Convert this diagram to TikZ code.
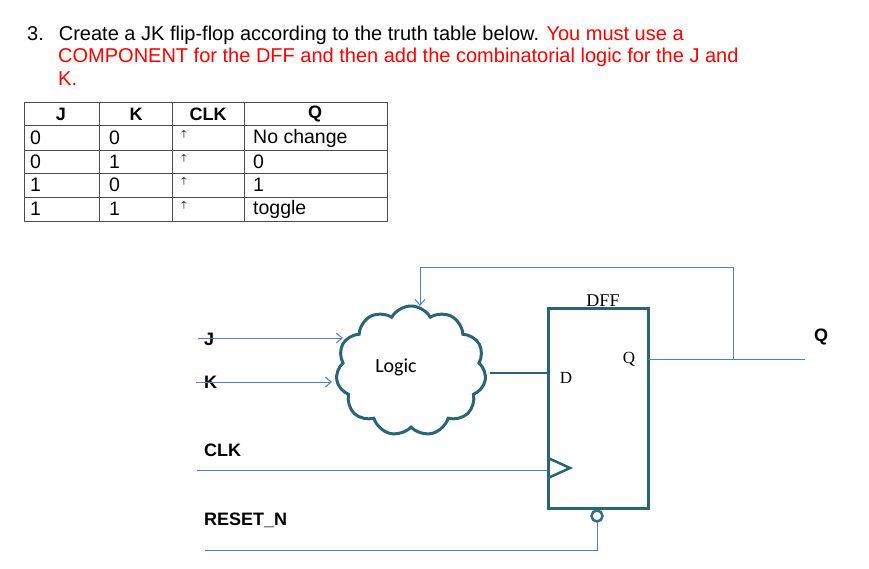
\documentclass[tikz,border=0pt]{standalone}
\usepackage{amsmath}
\usepackage{fontspec}
\setmainfont{Liberation Sans}
\newfontfamily\calib{Carlito}
\newfontfamily\tms{Liberation Serif}
\usetikzlibrary{shapes.symbols,arrows.meta}
\definecolor{wire}{RGB}{79,129,189}
\definecolor{teal}{RGB}{43,100,115}
\definecolor{qred}{RGB}{255,0,0}
\begin{document}
\begin{tikzpicture}[x=1pt,y=-1pt,
  wire/.style={draw=wire,line width=1pt},
  arr/.style={wire,-{Straight Barb[length=6pt,width=10pt]}},
  tbl/.style={draw=black!70,line width=0.6pt},
  cell/.style={anchor=west,inner sep=0pt,font=\fontsize{19.5}{19.5}\selectfont},
  hdr/.style={inner sep=0pt,font=\fontsize{18}{18}\selectfont\bfseries},
  lbl/.style={anchor=west,inner sep=0pt,font=\fontsize{18}{18}\selectfont\bfseries}]
\useasboundingbox (0,0) rectangle (869,568);
% question text
\node[anchor=west,inner sep=0pt,font=\fontsize{20}{20}\selectfont] (q1) at (27,35) {3.\hspace{15pt}Create a JK flip-flop according to the truth table below. \textcolor{qred}{You must use a}};
\node[anchor=west,inner sep=0pt,font=\fontsize{20}{20}\selectfont,text=qred] (q2) at (58,57) {COMPONENT for the DFF and then add the combinatorial logic for the J and};
\node[anchor=west,inner sep=0pt,font=\fontsize{20}{20}\selectfont,text=qred] (q3) at (58,79) {K.};
% table
\draw[tbl] (24,102) rectangle (387,221);
\foreach \y in {125,150,173,197} \draw[tbl] (24,\y) -- (387,\y);
\foreach \x in {99,172,244} \draw[tbl] (\x,102) -- (\x,221);
\node[hdr] (hj) at (61,114) {J};
\node[hdr] (hk) at (136,114) {K};
\node[hdr] (hc) at (208,114) {CLK};
\node[hdr] (hq) at (315,114) {Q};
\foreach \y/\j/\k/\q [count=\i] in {138/0/0/No change,162/0/1/0,185/1/0/1,209/1/1/toggle}{
  \node[cell] (j\i) at (30,\y) {\j};
  \node[cell] (k\i) at (109,\y) {\k};
  \node[inner sep=0pt,font=\fontsize{9}{9}\selectfont] (c\i) at (184,\y-4) {$\boldsymbol\uparrow$};
  \node[cell] (v\i) at (253,\y) {\q};
}
% logic cloud
\node[cloud,cloud puffs=11,cloud puff arc=120,aspect=1.2,draw=teal,line width=3pt,
  minimum width=150pt,minimum height=130pt] (cl) at (411,371) {};
\node[inner sep=0pt,font=\calib\fontsize{20}{20}\selectfont] (lg) at (396,367) {Logic};
% DFF
\node[draw=teal,line width=3pt,minimum width=100pt,minimum height=200pt,inner sep=0pt] (ff) at (598,408) {};
\node[inner sep=0pt,font=\tms\fontsize{18}{18}\selectfont] (dff) at (603,301) {DFF};
\node[inner sep=0pt,font=\tms\fontsize{17}{17}\selectfont] (dd) at (566,378) {D};
\node[inner sep=0pt,font=\tms\fontsize{17}{17}\selectfont] (qq) at (629,359) {Q};
\coordinate (ta) at (548,458); \coordinate (tb) at (570,468); \coordinate (tc) at (548,478);
\draw[teal,line width=2.5pt] (ta) -- (tb) -- (tc);
\node[circle,draw=teal!70!wire,line width=2.5pt,minimum size=11pt,inner sep=0pt,fill=white] (bub) at (597,516) {};
% labels and wires
\coordinate (js) at (198,338);
\coordinate (ks) at (196,382);
\coordinate (cs) at (197,470);
\coordinate (rs) at (205,550);
\node[lbl] (jl) at (204,339) {J};
\node[lbl] (kl) at (204,382) {K};
\node[lbl] (clk) at (204,450) {CLK};
\node[lbl] (rst) at (204,520) {RESET\_N};
\node[inner sep=0pt,font=\fontsize{18}{18}\selectfont\bfseries] (qo) at (821,337) {Q};
\coordinate (jt) at (343,338);
\coordinate (kt) at (332,382);
\draw[arr] (js) -- (jt);
\draw[arr] (ks) -- (kt);
\coordinate (co) at (490,373);
\draw[teal,line width=1.5pt] (co) -- (co -| ff.west);
\coordinate (qs) at (648,359);
\coordinate (qe) at (805,359);
\draw[wire] (qs) -- (qe);
\coordinate (fb1) at (733,359); \coordinate (fb2) at (733,267);
\coordinate (fb3) at (420,267); \coordinate (fb4) at (420,306);
\draw[arr] (fb1) -- (fb2) -- (fb3) -- (fb4);
\draw[wire] (cs) -- (cs -| ff.west);
\draw[wire] (rs) -- (597,550) -- (bub.south);
\end{tikzpicture}
\end{document}
